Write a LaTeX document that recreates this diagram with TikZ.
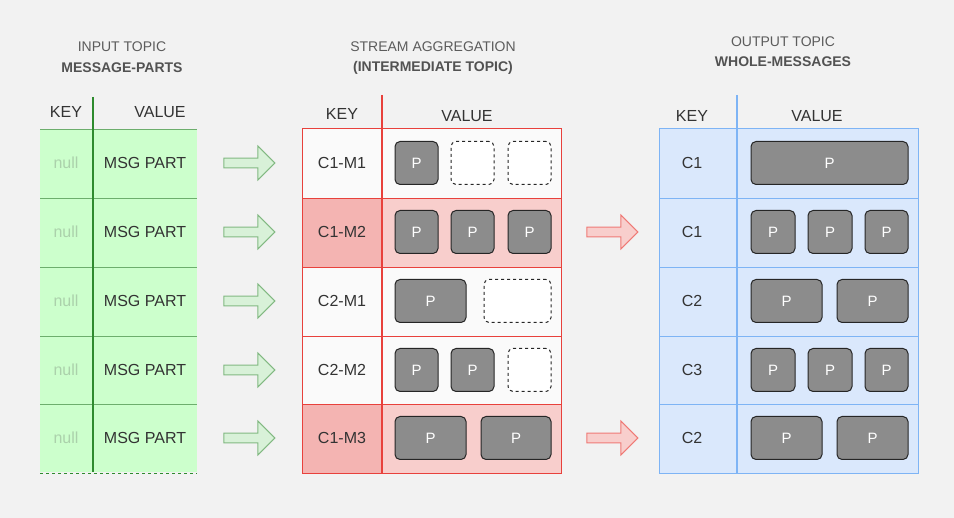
\documentclass[tikz,border=0pt]{standalone}
\usepackage{fontspec}
\setmainfont{Liberation Sans}
\usetikzlibrary{shapes.arrows}
\definecolor{bg}{HTML}{F2F2F2}
\definecolor{gfill}{HTML}{CCFFCC}
\definecolor{gline}{HTML}{2E8B2E}
\definecolor{rline}{HTML}{E8413C}
\definecolor{rfill}{HTML}{F8CECC}
\definecolor{rfillk}{HTML}{F4B4B2}
\definecolor{bfill}{HTML}{DAE8FC}
\definecolor{bline}{HTML}{7EB4F5}
\definecolor{pfill}{HTML}{8C8C8C}
\definecolor{txt}{HTML}{333333}
\begin{document}
\begin{tikzpicture}[x=1pt,y=-1pt,
  hdr/.style={font=\fontsize{14}{16}\selectfont,text=txt!80},
  hdrb/.style={font=\fontsize{14}{16}\selectfont\bfseries,text=txt!85},
  lab/.style={font=\fontsize{16}{18}\selectfont,text=txt},
  part/.style={draw=black!85,line width=1pt,fill=pfill,rounded corners=5pt,text=white,font=\fontsize{15}{17}\selectfont,inner sep=0pt},
  empty/.style={draw=black!85,line width=1pt,dashed,fill=white,rounded corners=5pt,inner sep=0pt},
  garr/.style={single arrow,draw=gline!60,fill=gfill!70!gline!40,minimum height=51pt,minimum width=34pt,single arrow head extend=9pt,inner sep=3pt,line width=1pt},
  rarr/.style={single arrow,draw=rline!70,fill=rfill,minimum height=51pt,minimum width=34pt,single arrow head extend=9pt,inner sep=3pt,line width=1pt}]
\fill[bg] (0,0) rectangle (954,518);
\useasboundingbox (0,0) rectangle (954,518);
% headers
\node[hdr] (h1) at (122,47) {INPUT TOPIC};
\node[hdrb] (h1b) at (122,68) {MESSAGE-PARTS};
\node[hdr] (h2) at (433,47) {STREAM AGGREGATION};
\node[hdrb] (h2b) at (433,68) {(INTERMEDIATE TOPIC)};
\node[hdr] (h3) at (783,42) {OUTPUT TOPIC};
\node[hdrb] (h3b) at (783,62) {WHOLE-MESSAGES};
% left table
\fill[gfill] (40,129) rectangle (197,472);
\foreach \y in {129,198,267,336,404} \draw[gline!70,line width=0.8pt] (40,\y) -- (197,\y);
\draw[gline,line width=1pt,dashed] (40,474) -- (197,474);
\draw[gline,line width=1.2pt] (93,97) -- (93,472);
\node[lab] (k1) at (66,112) {KEY};
\node[lab] (v1) at (160,112) {VALUE};
\foreach \y/\n in {163/a,232/b,301/c,370/d,438/e}{
  \node[lab,text=gline!40] (nl\n) at (66,\y) {null};
  \node[lab] (mp\n) at (145,\y) {MSG PART};
  \node[garr] (ga\n) at (247,\y) {};
}
% middle table
\fill[white!60!bg] (302,129) rectangle (561,474);
\fill[rfill] (302,198) rectangle (561,267);
\fill[rfill] (302,404) rectangle (561,474);
\fill[rfillk] (302,198) rectangle (382,267);
\fill[rfillk] (302,404) rectangle (382,474);
\foreach \y in {198,267,336,404} \draw[rline,line width=0.8pt] (302,\y) -- (561,\y);
\draw[rline,line width=1pt] (302,129) rectangle (561,474);
\draw[rline,line width=1.2pt] (382,95) -- (382,474);
\node[lab] (k2) at (342,114) {KEY};
\node[lab] (v2) at (467,116) {VALUE};
\foreach \y/\t/\n in {163/C1-M1/a,232/C1-M2/b,301/C2-M1/c,370/C2-M2/d,438/C1-M3/e}
  \node[lab] (mk\n) at (342,\y) {\t};
\node[part,minimum width=43pt,minimum height=43pt] (m11) at (416.5,163) {P};
\node[empty,minimum width=43pt,minimum height=43pt] (m12) at (472.5,163) {};
\node[empty,minimum width=43pt,minimum height=43pt] (m13) at (529.5,163) {};
\node[part,minimum width=43pt,minimum height=43pt] (m21) at (416.5,232) {P};
\node[part,minimum width=43pt,minimum height=43pt] (m22) at (472.5,232) {P};
\node[part,minimum width=43pt,minimum height=43pt] (m23) at (529.5,232) {P};
\node[part,minimum width=71pt,minimum height=43pt] (m31) at (430.5,301) {P};
\node[empty,minimum width=67pt,minimum height=43pt] (m32) at (517.5,301) {};
\node[part,minimum width=43pt,minimum height=43pt] (m41) at (416.5,370) {P};
\node[part,minimum width=43pt,minimum height=43pt] (m42) at (472.5,370) {P};
\node[empty,minimum width=43pt,minimum height=43pt] (m43) at (529.5,370) {};
\node[part,minimum width=71pt,minimum height=43pt] (m51) at (430.5,438) {P};
\node[part,minimum width=70pt,minimum height=43pt] (m52) at (516,438) {P};
\node[rarr] (ra) at (610,232) {};
\node[rarr] (rb) at (610,438) {};
% right table
\fill[bfill] (659,129) rectangle (918,474);
\foreach \y in {198,267,336,404} \draw[bline,line width=0.8pt] (659,\y) -- (918,\y);
\draw[bline,line width=1pt] (659,129) rectangle (918,474);
\draw[bline,line width=1.2pt] (737,95) -- (737,474);
\node[lab] (k3) at (692,116) {KEY};
\node[lab] (v3) at (817,116) {VALUE};
\foreach \y/\t/\n in {163/C1/a,232/C1/b,301/C2/c,370/C3/d,438/C2/e}
  \node[lab] (ok\n) at (692,\y) {\t};
\node[part,minimum width=157pt,minimum height=43pt] (o11) at (829.5,163) {P};
\node[part,minimum width=44pt,minimum height=43pt] (o21) at (773,232) {P};
\node[part,minimum width=44pt,minimum height=43pt] (o22) at (830,232) {P};
\node[part,minimum width=43pt,minimum height=43pt] (o23) at (886.5,232) {P};
\node[part,minimum width=71pt,minimum height=43pt] (o31) at (786.5,301) {P};
\node[part,minimum width=71pt,minimum height=43pt] (o32) at (872.5,301) {P};
\node[part,minimum width=44pt,minimum height=43pt] (o41) at (773,370) {P};
\node[part,minimum width=44pt,minimum height=43pt] (o42) at (830,370) {P};
\node[part,minimum width=43pt,minimum height=43pt] (o43) at (886.5,370) {P};
\node[part,minimum width=71pt,minimum height=43pt] (o51) at (786.5,438) {P};
\node[part,minimum width=71pt,minimum height=43pt] (o52) at (872.5,438) {P};
\end{tikzpicture}
\end{document}
